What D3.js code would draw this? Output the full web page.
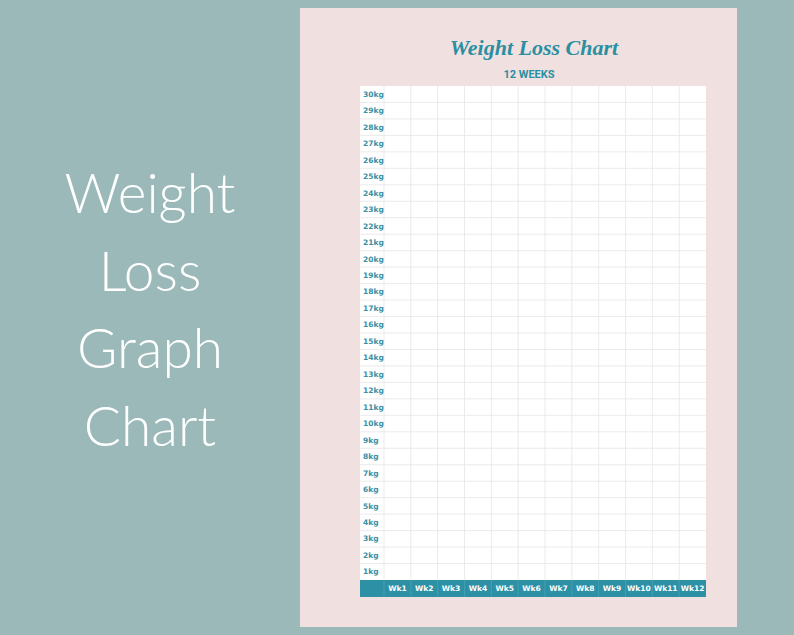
<!DOCTYPE html>
<html>
<head>
<meta charset="utf-8">
<title>Weight Loss Graph Chart</title>
<script src="https://d3js.org/d3.v7.min.js"></script>
<style>
  body { margin: 0; background: #9bb9b9; }
  svg { display: block; }
</style>
</head>
<body>
<div id="chart"></div>
<script>
// values
var weeks = ["Wk1", "Wk2", "Wk3", "Wk4", "Wk5", "Wk6", "Wk7", "Wk8", "Wk9", "Wk10", "Wk11", "Wk12"];
var weights = [30, 29, 28, 27, 26, 25, 24, 23, 22, 21, 20, 19, 18, 17, 16, 15, 14, 13, 12, 11, 10, 9, 8, 7, 6, 5, 4, 3, 2, 1];
var sideWords = ["Weight", "Loss", "Graph", "Chart"];

var W = 794, H = 635;
var teal = "#2d90a5";
var labelFont = "'DejaVu Sans', sans-serif";

var svg = d3.select("#chart").append("svg")
    .attr("width", W)
    .attr("height", H);

svg.append("rect")
    .attr("width", W).attr("height", H)
    .attr("fill", "#9bb9b9");

// left big title
svg.selectAll(".side")
    .data(sideWords)
    .enter().append("text")
    .attr("class", "side")
    .attr("x", 150)
    .attr("y", function(d, i) { return 213 + i * 77.7; })
    .attr("text-anchor", "middle")
    .style("font-family", "Lato, 'Open Sans', sans-serif")
    .style("font-weight", 300)
    .style("font-size", "55px")
    .attr("fill", "#ffffff")
    .text(function(d) { return d; });

// the sheet
svg.append("rect")
    .attr("x", 300).attr("y", 8)
    .attr("width", 437).attr("height", 619)
    .attr("fill", "#f0e1e0");

svg.append("text")
    .attr("x", 534).attr("y", 55)
    .attr("text-anchor", "middle")
    .style("font-family", "'Liberation Serif', serif")
    .style("font-style", "italic")
    .style("font-weight", "bold")
    .style("font-size", "22px")
    .attr("fill", "#2a8fa2")
    .text("Weight Loss Chart");

svg.append("text")
    .attr("x", 529).attr("y", 78)
    .attr("text-anchor", "middle")
    .style("font-family", "Roboto, sans-serif")
    .style("font-weight", "bold")
    .style("font-size", "11px")
    .attr("fill", "#2a8fa2")
    .text("12 WEEKS");

// grid
var gLeft = 360, labelW = 24, gRight = 706, gTop = 86, gBottom = 580, barH = 17;

var x = d3.scaleBand()
    .domain(weeks)
    .range([gLeft + labelW, gRight]);

var y = d3.scaleBand()
    .domain(weights)
    .range([gTop, gBottom]);

var g = svg.append("g");

g.append("rect")
    .attr("x", gLeft).attr("y", gTop)
    .attr("width", gRight - gLeft).attr("height", gBottom - gTop)
    .attr("fill", "#ffffff");

g.selectAll(".hline")
    .data(weights.slice(1))
    .enter().append("line")
    .attr("class", "hline")
    .attr("x1", gLeft).attr("x2", gRight)
    .attr("y1", function(d) { return y(d); })
    .attr("y2", function(d) { return y(d); })
    .attr("stroke", "#e6e6e6")
    .attr("stroke-width", 0.8);

g.selectAll(".vline")
    .data(weeks)
    .enter().append("line")
    .attr("class", "vline")
    .attr("x1", function(d) { return x(d); })
    .attr("x2", function(d) { return x(d); })
    .attr("y1", gTop).attr("y2", gBottom)
    .attr("stroke", "#e6e6e6")
    .attr("stroke-width", 0.8);

g.selectAll(".kg")
    .data(weights)
    .enter().append("text")
    .attr("class", "kg")
    .attr("x", gLeft + 3)
    .attr("y", function(d) { return y(d) + y.bandwidth() / 2; })
    .attr("dy", "0.35em")
    .style("font-family", labelFont)
    .style("font-weight", "bold")
    .style("font-size", "7.5px")
    .attr("fill", "#3a8fa3")
    .text(function(d) { return d + "kg"; });

// week header bar
g.append("rect")
    .attr("x", gLeft).attr("y", gBottom)
    .attr("width", gRight - gLeft).attr("height", barH)
    .attr("fill", teal);

g.selectAll(".hsep")
    .data(weeks)
    .enter().append("line")
    .attr("class", "hsep")
    .attr("x1", function(d) { return x(d); })
    .attr("x2", function(d) { return x(d); })
    .attr("y1", gBottom).attr("y2", gBottom + barH)
    .attr("stroke", "#4aa2b4")
    .attr("stroke-width", 0.8);

g.selectAll(".wk")
    .data(weeks)
    .enter().append("text")
    .attr("class", "wk")
    .attr("x", function(d) { return x(d) + x.bandwidth() / 2; })
    .attr("y", gBottom + barH / 2)
    .attr("dy", "0.35em")
    .attr("text-anchor", "middle")
    .style("font-family", labelFont)
    .style("font-weight", "bold")
    .style("font-size", "7.5px")
    .attr("fill", "#ffffff")
    .text(function(d) { return d; });
</script>
</body>
</html>
